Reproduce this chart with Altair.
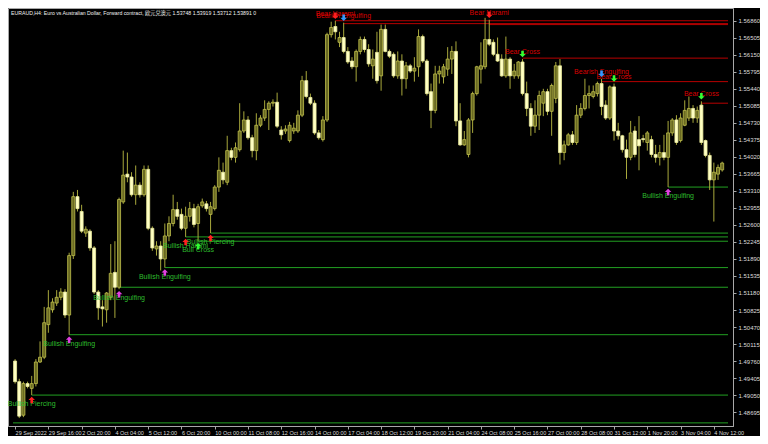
import altair as alt
import pandas as pd

# ---------------- data (EURAUD H4) ----------------
opens = [1.4976, 1.4933, 1.4863, 1.4929, 1.4919, 1.4929, 1.4974, 1.4984, 1.5052, 1.5083,
         1.5097, 1.5109, 1.5120, 1.5072, 1.5196, 1.5319, 1.5288, 1.5243, 1.5247, 1.5212,
         1.5120, 1.5089, 1.5083, 1.5109, 1.5161, 1.5130, 1.5308, 1.5366, 1.5360, 1.5323,
         1.5343, 1.5323, 1.5376, 1.5253, 1.5210, 1.5216, 1.5189, 1.5237, 1.5263, 1.5292,
         1.5282, 1.5253, 1.5278, 1.5294, 1.5263, 1.5300, 1.5304, 1.5282, 1.5294, 1.5339,
         1.5370, 1.5349, 1.5415, 1.5401, 1.5417, 1.5456, 1.5479, 1.5442, 1.5415, 1.5468,
         1.5483, 1.5501, 1.5514, 1.5516, 1.5458, 1.5456, 1.5436, 1.5456, 1.5456, 1.5489,
         1.5561, 1.5526, 1.5514, 1.5452, 1.5438, 1.5479, 1.5657, 1.5674, 1.5641, 1.5651,
         1.5622, 1.5602, 1.5590, 1.5622, 1.5647, 1.5626, 1.5592, 1.5620, 1.5571, 1.5668,
         1.5622, 1.5616, 1.5571, 1.5602, 1.5565, 1.5592, 1.5581, 1.5590, 1.5653, 1.5602,
         1.5538, 1.5499, 1.5575, 1.5569, 1.5585, 1.5606, 1.5622, 1.5477, 1.5427, 1.5407,
         1.5479, 1.5534, 1.5585, 1.5590, 1.5647, 1.5641, 1.5616, 1.5606, 1.5571, 1.5606,
         1.5571, 1.5571, 1.5600, 1.5534, 1.5503, 1.5466, 1.5489, 1.5514, 1.5538, 1.5497,
         1.5524, 1.5592, 1.5411, 1.5427, 1.5448, 1.5432, 1.5489, 1.5503, 1.5530, 1.5528,
         1.5534, 1.5555, 1.5510, 1.5483, 1.5548, 1.5456, 1.5446, 1.5417, 1.5401, 1.5456,
         1.5438, 1.5440, 1.5432, 1.5438, 1.5407, 1.5401, 1.5411, 1.5401, 1.5452, 1.5479,
         1.5436, 1.5468, 1.5483, 1.5503, 1.5483, 1.5510, 1.5436, 1.5405, 1.5354, 1.5366,
         1.53748]
highs = [1.4980, 1.4939, 1.4933, 1.4933, 1.4945, 1.4980, 1.5017, 1.5089, 1.5124, 1.5107,
         1.5124, 1.5128, 1.5126, 1.5202, 1.5329, 1.5333, 1.5302, 1.5257, 1.5251, 1.5216,
         1.5124, 1.5103, 1.5120, 1.5220, 1.5226, 1.5317, 1.5415, 1.5411, 1.5370, 1.5384,
         1.5349, 1.5384, 1.5384, 1.5257, 1.5226, 1.5226, 1.5263, 1.5278, 1.5323, 1.5308,
         1.5294, 1.5298, 1.5308, 1.5304, 1.5304, 1.5315, 1.5310, 1.5308, 1.5343, 1.5401,
         1.5390, 1.5446, 1.5421, 1.5432, 1.5514, 1.5497, 1.5487, 1.5448, 1.5493, 1.5489,
         1.5520, 1.5518, 1.5522, 1.5536, 1.5466, 1.5468, 1.5475, 1.5473, 1.5499, 1.5571,
         1.5581, 1.5534, 1.5520, 1.5458, 1.5487, 1.5661, 1.5684, 1.5686, 1.5663, 1.5682,
         1.5631, 1.5610, 1.5626, 1.5653, 1.5653, 1.5637, 1.5626, 1.5663, 1.5678, 1.5678,
         1.5626, 1.5620, 1.5622, 1.5616, 1.5600, 1.5596, 1.5610, 1.5668, 1.5657, 1.5606,
         1.5555, 1.5592, 1.5592, 1.5596, 1.5631, 1.5633, 1.5643, 1.5514, 1.5456, 1.5483,
         1.5538, 1.5592, 1.5641, 1.5692, 1.5688, 1.5647, 1.5651, 1.5616, 1.5653, 1.5610,
         1.5596, 1.5602, 1.5606, 1.5559, 1.5514, 1.5520, 1.5540, 1.5544, 1.5544, 1.5555,
         1.5600, 1.5606, 1.5436, 1.5452, 1.5456, 1.5510, 1.5514, 1.5565, 1.5551, 1.5551,
         1.5559, 1.5565, 1.5520, 1.5551, 1.5555, 1.5473, 1.5448, 1.5438, 1.5477, 1.5466,
         1.5487, 1.5448, 1.5456, 1.5446, 1.5427, 1.5427, 1.5448, 1.5477, 1.5483, 1.5489,
         1.5493, 1.5520, 1.5528, 1.5510, 1.5507, 1.5518, 1.5438, 1.5411, 1.5390, 1.5386,
         1.53919]
lows = [1.4929, 1.4857, 1.4859, 1.4919, 1.4905, 1.4923, 1.4972, 1.4980, 1.5035, 1.5077,
        1.5091, 1.5103, 1.5066, 1.5031, 1.5189, 1.5288, 1.5243, 1.5235, 1.5206, 1.5116,
        1.5062, 1.5048, 1.5056, 1.5103, 1.5066, 1.5126, 1.5304, 1.5349, 1.5319, 1.5302,
        1.5317, 1.5319, 1.5249, 1.5206, 1.5196, 1.5165, 1.5171, 1.5226, 1.5257, 1.5271,
        1.5249, 1.5235, 1.5267, 1.5255, 1.5226, 1.5296, 1.5288, 1.5243, 1.5290, 1.5329,
        1.5345, 1.5343, 1.5395, 1.5390, 1.5413, 1.5452, 1.5438, 1.5401, 1.5395, 1.5464,
        1.5477, 1.5458, 1.5507, 1.5462, 1.5438, 1.5450, 1.5432, 1.5450, 1.5452, 1.5485,
        1.5524, 1.5510, 1.5448, 1.5438, 1.5434, 1.5475, 1.5651, 1.5647, 1.5631, 1.5618,
        1.5596, 1.5585, 1.5559, 1.5616, 1.5620, 1.5590, 1.5565, 1.5555, 1.5540, 1.5620,
        1.5608, 1.5567, 1.5565, 1.5530, 1.5544, 1.5577, 1.5559, 1.5569, 1.5598, 1.5530,
        1.5462, 1.5493, 1.5555, 1.5555, 1.5571, 1.5575, 1.5466, 1.5425, 1.5425, 1.5401,
        1.5452, 1.5530, 1.5555, 1.5585, 1.5633, 1.5612, 1.5600, 1.5569, 1.5567, 1.5544,
        1.5565, 1.5565, 1.5530, 1.5487, 1.5446, 1.5452, 1.5458, 1.5487, 1.5489, 1.5446,
        1.5514, 1.5386, 1.5395, 1.5425, 1.5427, 1.5427, 1.5483, 1.5499, 1.5503, 1.5524,
        1.5528, 1.5489, 1.5479, 1.5479, 1.5436, 1.5438, 1.5411, 1.5356, 1.5395, 1.5401,
        1.5374, 1.5432, 1.5415, 1.5401, 1.5390, 1.5384, 1.5395, 1.5339, 1.5446, 1.5427,
        1.5432, 1.5466, 1.5477, 1.5473, 1.5473, 1.5427, 1.5401, 1.5333, 1.5267, 1.5354,
        1.53712]
closes = [1.4933, 1.4861, 1.4929, 1.4923, 1.4929, 1.4974, 1.4984, 1.5056, 1.5087, 1.5099,
          1.5109, 1.5120, 1.5072, 1.5196, 1.5319, 1.5294, 1.5247, 1.5251, 1.5212, 1.5120,
          1.5087, 1.5085, 1.5118, 1.5159, 1.5130, 1.5313, 1.5364, 1.5360, 1.5323, 1.5343,
          1.5323, 1.5376, 1.5253, 1.5212, 1.5216, 1.5189, 1.5237, 1.5263, 1.5292, 1.5278,
          1.5253, 1.5278, 1.5294, 1.5261, 1.5298, 1.5308, 1.5294, 1.5298, 1.5339, 1.5374,
          1.5354, 1.5415, 1.5401, 1.5421, 1.5456, 1.5479, 1.5442, 1.5415, 1.5468, 1.5483,
          1.5501, 1.5514, 1.5516, 1.5466, 1.5448, 1.5460, 1.5468, 1.5462, 1.5489, 1.5561,
          1.5528, 1.5514, 1.5452, 1.5442, 1.5479, 1.5657, 1.5672, 1.5663, 1.5651, 1.5622,
          1.5600, 1.5590, 1.5622, 1.5647, 1.5626, 1.5596, 1.5606, 1.5561, 1.5668, 1.5622,
          1.5612, 1.5571, 1.5602, 1.5565, 1.5592, 1.5581, 1.5587, 1.5653, 1.5602, 1.5534,
          1.5499, 1.5575, 1.5581, 1.5590, 1.5606, 1.5622, 1.5477, 1.5427, 1.5438, 1.5479,
          1.5534, 1.5590, 1.5592, 1.5647, 1.5637, 1.5616, 1.5602, 1.5571, 1.5606, 1.5571,
          1.5581, 1.5600, 1.5534, 1.5503, 1.5466, 1.5489, 1.5530, 1.5538, 1.5497, 1.5551,
          1.5592, 1.5411, 1.5427, 1.5448, 1.5432, 1.5489, 1.5503, 1.5530, 1.5534, 1.5538,
          1.5555, 1.5507, 1.5483, 1.5548, 1.5456, 1.5446, 1.5417, 1.5401, 1.5452, 1.5407,
          1.5425, 1.5438, 1.5452, 1.5407, 1.5401, 1.5411, 1.5401, 1.5452, 1.5479, 1.5432,
          1.5483, 1.5499, 1.5503, 1.5483, 1.5499, 1.5432, 1.5405, 1.5354, 1.5370, 1.5380,
          1.53891]

# time axis labels (one every 8 bars)
x_tick_bars = [0, 8, 16, 24, 32, 40, 48, 56, 64, 72, 80, 88, 96, 104, 112, 120,
               128, 136, 144, 152, 160, 168]
x_tick_labels = ["29 Sep 2022", "29 Sep 16:00", "2 Oct 20:00", "4 Oct 04:00", "5 Oct 12:00",
                 "6 Oct 20:00", "10 Oct 00:00", "11 Oct 08:00", "12 Oct 16:00", "14 Oct 00:00",
                 "17 Oct 04:00", "18 Oct 12:00", "19 Oct 20:00", "21 Oct 04:00", "24 Oct 08:00",
                 "25 Oct 16:00", "27 Oct 00:00", "28 Oct 08:00", "31 Oct 12:00", "1 Nov 20:00",
                 "3 Nov 04:00", "4 Nov 12:00"]
y_tick_values = [1.48695, 1.49050, 1.49405, 1.49760, 1.50115, 1.50470, 1.50825, 1.51180,
                 1.51535, 1.51890, 1.52245, 1.52600, 1.52955, 1.53310, 1.53665, 1.54020,
                 1.54375, 1.54730, 1.55085, 1.55440, 1.55795, 1.56150, 1.56505, 1.56860]

# pattern signals
sig_bars = [4, 13, 25, 36, 41, 44, 47, 157, 77, 79, 114, 122, 141, 144, 165]
sig_names = ["Bullish Piercing", "Bullish Engulfing", "Bullish Engulfing", "Bullish Engulfing",
             "Bullish Harami", "Bull Cross", "Bullish Piercing", "Bullish Engulfing",
             "Bear Harami", "Bearish Engulfing", "Bear Harami", "Bear Cross",
             "Bearish Engulfing", "Bear Cross", "Bear Cross"]
sig_side = ["bull"] * 8 + ["bear"] * 7
sig_arrow = ["#ff2020", "#e040e0", "#e040e0", "#e040e0", "#ff2020", "#33ff33", "#ff2020",
             "#e040e0", "#ff2020", "#3399ff", "#ff2020", "#33ff33", "#3399ff", "#33ff33",
             "#33ff33"]

# support / resistance levels drawn from each signal to the right edge
level_start = [-0.5, 4, 13, 25, 36, 41, 44, 47, 157, 77, 79, 114, 122, 141, 165]
level_price = [1.4847, 1.4905, 1.5031, 1.5130, 1.5171, 1.5235, 1.5226, 1.5243, 1.5339,
               1.5686, 1.5680, 1.5678, 1.5608, 1.5559, 1.5514]
level_side = ["bull"] * 9 + ["bear"] * 6

TITLE = ("EURAUD,H4:  Euro vs Australian Dollar, Forward contract, 欧元兑澳元  "
         "1.53748 1.53919 1.53712 1.53891  0")

# ---------------- styling ----------------
X_MIN, X_MAX = -0.5, 171.4
Y_MIN, Y_MAX = 1.48405, 1.57126
FONT = "Liberation Sans, 'Noto Sans CJK SC', sans-serif"
WICK = "#a8a83c"
BULL_FILL, BULL_EDGE = "#6a6a22", "#c0c04c"
BEAR_FILL, BEAR_EDGE = "#ffffc4", "#ecec9e"
GREEN_LINE, RED_LINE = "#22a022", "#b80000"
BULL_TEXT, BEAR_TEXT = "#2ebd2e", "#d80000"
FRAME = "#a8a8a8"
UP_PATH = "M0,-1L1,0L0.4,0L0.4,1L-0.4,1L-0.4,0L-1,0Z"
DOWN_PATH = "M0,1L1,0L0.4,0L0.4,-1L-0.4,-1L-0.4,0L-1,0Z"

candles = pd.DataFrame({"bar": list(range(len(opens))), "open": opens, "high": highs,
                        "low": lows, "close": closes})
sig = pd.DataFrame({"bar": sig_bars, "name": sig_names, "side": sig_side, "arrow": sig_arrow})
sig["low"] = [lows[b] for b in sig_bars]
sig["high"] = [highs[b] for b in sig_bars]
levels = pd.DataFrame({"start": level_start, "price": level_price, "side": level_side})
levels["end"] = X_MAX
levels["color"] = [GREEN_LINE if s == "bull" else RED_LINE for s in level_side]

label_expr = ("[" + ",".join("'%s'" % s for s in x_tick_labels) + "][round(datum.value / 8)]")

xscale = alt.Scale(domain=[X_MIN, X_MAX], nice=False, zero=False)
yscale = alt.Scale(domain=[Y_MIN, Y_MAX], nice=False, zero=False)
x_axis = alt.Axis(values=x_tick_bars, labelExpr=label_expr, title=None, grid=False,
                  tickSize=3, labelAlign="left", labelPadding=1, labelFontSize=5.5,
                  labelBaseline="top", labelFlush=False, labelOverlap=False)
y_axis = alt.Axis(values=y_tick_values, format=".5f", orient="right", title=None, grid=False,
                  tickSize=3, labelPadding=2, labelFontSize=6, labelOverlap=False,
                  labelFlush=False)


def X(f):
    return alt.X(f + ":Q", scale=xscale, axis=x_axis)


def Y(f):
    return alt.Y(f + ":Q", scale=yscale, axis=y_axis)


lines = alt.Chart(levels).mark_rule(strokeWidth=1, clip=True).encode(
    x=X("start"), x2="end:Q", y=Y("price"), color=alt.Color("color:N", scale=None))

wicks = alt.Chart(candles).mark_rule(color=WICK, strokeWidth=1, clip=True).encode(
    x=X("bar"), y=Y("low"), y2="high:Q")

is_bull = "datum.close >= datum.open"
bodies = alt.Chart(candles).mark_bar(size=3, strokeWidth=0.8, clip=True).encode(
    x=X("bar"), y=Y("open"), y2="close:Q",
    fill=alt.condition(is_bull, alt.value(BULL_FILL), alt.value(BEAR_FILL)),
    stroke=alt.condition(is_bull, alt.value(BULL_EDGE), alt.value(BEAR_EDGE)))

bull_text = alt.Chart(sig).transform_filter("datum.side == 'bull'").mark_text(
    dy=9, fontSize=7, font=FONT, color=BULL_TEXT, clip=True).encode(
    x=X("bar"), y=Y("low"), text="name:N")
bear_text = alt.Chart(sig).transform_filter("datum.side == 'bear'").mark_text(
    dy=-7, fontSize=7, font=FONT, color=BEAR_TEXT, clip=True).encode(
    x=X("bar"), y=Y("high"), text="name:N")

bull_arrows = alt.Chart(sig).transform_filter("datum.side == 'bull'").mark_point(
    shape=UP_PATH, filled=True, size=42, yOffset=5, opacity=1, strokeWidth=0, clip=True).encode(
    x=X("bar"), y=Y("low"), color=alt.Color("arrow:N", scale=None))
bear_arrows = alt.Chart(sig).transform_filter("datum.side == 'bear'").mark_point(
    shape=DOWN_PATH, filled=True, size=42, yOffset=-5, opacity=1, strokeWidth=0, clip=True).encode(
    x=X("bar"), y=Y("high"), color=alt.Color("arrow:N", scale=None))

title_text = alt.Chart(pd.DataFrame({"t": [TITLE]})).mark_text(
    align="left", baseline="middle", fontSize=5.2, font=FONT, color="#f0f0f0").encode(
    text="t:N", x=alt.value(3), y=alt.value(5))

chart = alt.layer(lines, wicks, bodies, bull_text, bear_text, bull_arrows, bear_arrows,
                  title_text).properties(
    width=752, height=428,
    autosize=alt.AutoSizeParams(type="fit", contains="padding"),
    padding={"left": 0, "top": 0, "right": 0, "bottom": 0},
    background="#000000",
).configure_view(stroke=FRAME, strokeWidth=1).configure_axis(
    domainColor=FRAME, tickColor=FRAME, labelColor="#dcdcdc", labelFont=FONT)

chart.save("out.html", embed_options={"renderer": "svg", "actions": False})
